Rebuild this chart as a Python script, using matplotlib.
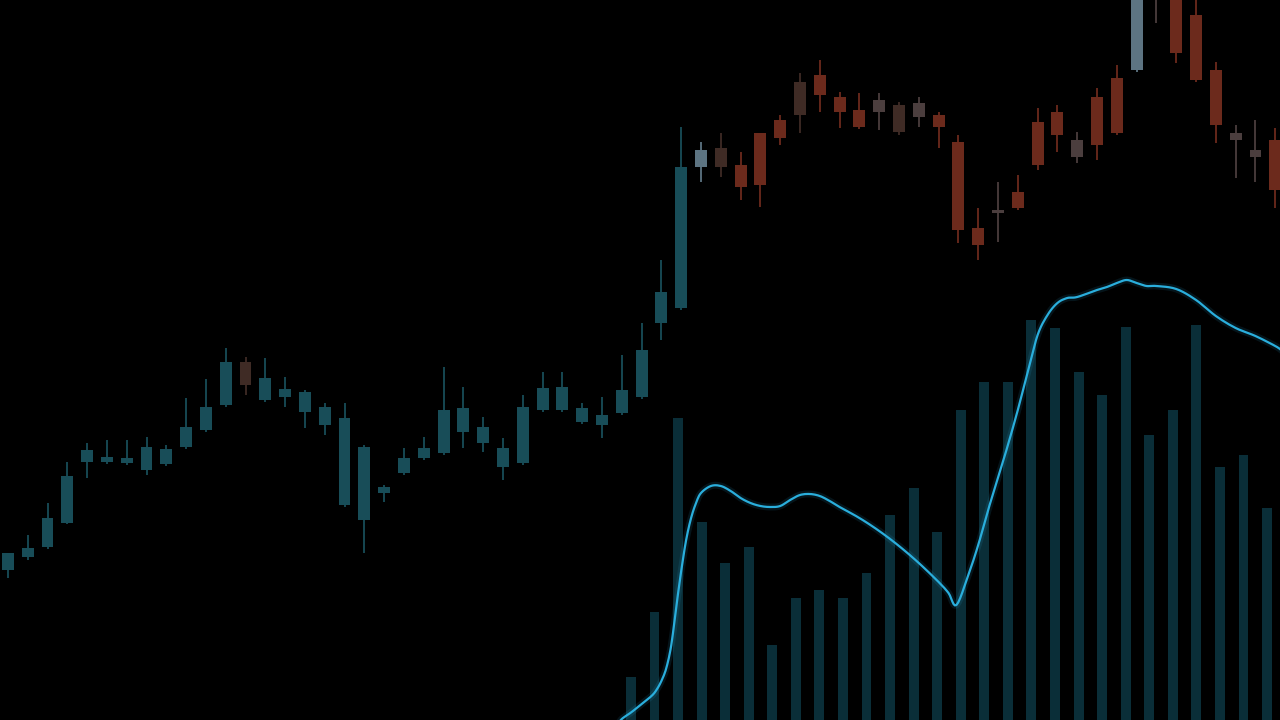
import matplotlib
matplotlib.use("Agg")
import matplotlib.pyplot as plt
import numpy as np

# candle series: one entry per session
opens = [15.0, 16.3, 17.3, 19.7, 25.8, 25.8, 25.7, 25.0, 25.6, 27.3,
         29.0, 31.5, 35.8, 32.0, 32.3, 30.8, 29.5, 21.5, 20.0, 22.7,
         24.7, 26.2, 26.7, 28.8, 27.7, 25.3, 25.7, 31.0, 31.0, 29.8,
         29.5, 30.7, 32.3, 39.7, 41.2, 55.3, 57.2, 55.5, 58.7, 60.0,
         63.8, 64.5, 62.3, 61.0, 62.0, 61.5, 61.7, 60.5, 57.8, 49.2,
         51.0, 52.8, 59.8, 60.8, 58.0, 62.3, 64.2, 65.0, 72.0, 73.0,
         70.5, 65.0, 58.7, 57.0, 58.0]
closes = [16.7, 17.2, 20.2, 24.4, 27.0, 26.3, 26.2, 27.3, 27.1, 29.3,
          31.3, 35.8, 33.5, 34.2, 33.1, 32.8, 31.3, 30.2, 27.3, 23.3,
          26.2, 27.2, 31.0, 31.2, 29.3, 27.2, 31.3, 33.2, 33.3, 31.2,
          30.5, 33.0, 37.0, 42.8, 55.3, 57.0, 55.3, 53.3, 53.5, 58.2,
          60.5, 62.5, 60.8, 59.3, 60.8, 58.8, 60.3, 59.3, 49.0, 47.5,
          50.7, 51.2, 55.5, 58.5, 56.3, 57.5, 58.7, 73.5, 73.0, 66.7,
          64.0, 59.5, 58.0, 56.3, 53.0]
highs = [16.7, 18.5, 21.7, 25.8, 27.7, 28.0, 28.0, 28.3, 27.5, 32.2,
         34.1, 37.2, 36.3, 36.2, 34.3, 33.0, 31.7, 31.7, 27.5, 23.5,
         27.2, 28.3, 35.3, 33.3, 30.3, 28.2, 32.5, 34.8, 34.8, 31.7,
         32.3, 36.5, 39.7, 46.0, 59.3, 57.8, 58.7, 56.8, 58.7, 60.5,
         64.7, 66.0, 62.8, 62.7, 62.7, 61.8, 62.3, 60.8, 58.5, 51.2,
         53.8, 54.5, 61.2, 61.5, 58.8, 63.2, 65.5, 74.0, 73.5, 73.5,
         72.0, 65.8, 59.5, 60.0, 59.2]
lows = [14.2, 16.0, 17.1, 19.6, 24.2, 25.6, 25.5, 24.5, 25.4, 27.1,
        28.8, 31.3, 32.5, 31.8, 31.3, 29.2, 28.5, 21.3, 16.7, 21.8,
        24.5, 26.0, 26.5, 27.2, 26.8, 24.0, 25.5, 30.8, 30.8, 29.6,
        28.2, 30.5, 32.1, 38.0, 41.0, 53.8, 54.3, 52.0, 51.3, 57.5,
        58.7, 60.8, 59.2, 59.1, 59.0, 58.5, 59.3, 57.2, 47.7, 46.0,
        47.8, 51.0, 55.0, 56.8, 55.7, 56.0, 58.5, 64.8, 69.7, 65.7,
        63.8, 57.7, 54.2, 53.8, 51.2]
# t teal, r red, g grey, b blue-grey, d dark brown
tones = list("t" * 12 + "d" + "t" * 22 + "bdrrrdrrrgdgrrrgrrrgrrbgrrrggr")

# indicator columns along the lower half
volumes = [4.3, 10.8, 30.2, 19.8, 15.7, 17.3, 7.5, 12.2, 13.0, 12.2,
           14.7, 20.5, 23.2, 18.8, 31.0, 33.8, 33.8, 40.0, 39.2, 34.8,
           32.5, 39.3, 28.5, 31.0, 39.5, 25.3, 26.5, 21.2]

# smoothed signal line, sampled on the candle time axis
line_t = [30.8, 31.0, 31.5, 32.0, 32.5, 32.75, 33.0, 33.25, 33.5, 33.75,
          34.0, 34.25, 34.5, 34.75, 35.0, 35.5, 36.0, 36.5, 37.0, 37.5,
          38.0, 38.5, 39.0, 39.5, 40.0, 40.5, 41.0, 41.5, 42.0, 43.0,
          44.0, 45.0, 46.0, 47.0, 47.5, 47.9, 48.5, 49.0, 49.5, 50.0,
          50.5, 51.0, 51.5, 52.0, 52.5, 53.0, 53.5, 54.0, 55.0, 55.5,
          56.0, 56.5, 57.0, 57.5, 58.0, 59.0, 60.0, 61.0, 62.0, 63.0,
          64.0, 64.3]
line_v = [-0.5, 0.1, 0.8, 1.6, 2.4, 3.0, 3.9, 5.2, 7.5, 11.3,
          14.9, 18.0, 20.2, 21.7, 22.7, 23.4, 23.4, 22.9, 22.2, 21.7,
          21.4, 21.3, 21.4, 22.0, 22.5, 22.6, 22.4, 21.9, 21.3, 20.2,
          18.9, 17.4, 15.7, 13.8, 12.7, 11.5, 14.5, 17.5, 21.0, 24.2,
          27.5, 31.0, 34.8, 38.5, 40.5, 41.7, 42.2, 42.3, 43.0, 43.3,
          43.7, 44.0, 43.7, 43.4, 43.4, 43.1, 42.0, 40.4, 39.2, 38.4,
          37.4, 37.0]

tone_colors = {
    't': '#184d58',
    'r': '#6c2a1c',
    'g': '#4b3e3e',
    'b': '#5d7482',
    'd': '#3f2b25',
}


def smooth_path(xs, ys, steps=6):
    # catmull-rom pass so the drawn curve has no visible corners
    xs = np.asarray(xs, float)
    ys = np.asarray(ys, float)
    px = np.concatenate([[xs[0]], xs, [xs[-1]]])
    py = np.concatenate([[ys[0]], ys, [ys[-1]]])
    out_x, out_y = [], []
    for k in range(1, len(px) - 2):
        t = np.linspace(0, 1, steps, endpoint=False)
        for arr, out in ((px, out_x), (py, out_y)):
            p0, p1, p2, p3 = arr[k - 1], arr[k], arr[k + 1], arr[k + 2]
            out.extend(0.5 * (2 * p1 + (-p0 + p2) * t
                              + (2 * p0 - 5 * p1 + 4 * p2 - p3) * t ** 2
                              + (-p0 + 3 * p1 - 3 * p2 + p3) * t ** 3))
    out_x.append(xs[-1])
    out_y.append(ys[-1])
    return out_x, out_y


fig = plt.figure(figsize=(12.8, 7.2), dpi=100, facecolor='black')

# volume overlay has its own spacing, so it gets its own axes
ax_vol = fig.add_axes([0, 0, 1, 1])
ax_vol.set_facecolor('black')
ax_vol.bar(np.arange(len(volumes)), volumes, width=0.42, bottom=0,
           color='#0a2e38', zorder=1)
ax_vol.set_xlim(-26.78, 27.55)
ax_vol.set_ylim(0, 72)
ax_vol.axis('off')

ax = fig.add_axes([0, 0, 1, 1])
ax.patch.set_alpha(0)
idx = np.arange(len(opens))
for i in idx:
    c = tone_colors[tones[i]]
    lo_b = min(opens[i], closes[i])
    hi_b = max(opens[i], closes[i])
    ax.vlines(i, lows[i], highs[i], color=c, linewidth=1.3, zorder=2)
    ax.bar(i, hi_b - lo_b, bottom=lo_b, width=0.6, color=c, zorder=3)

sx, sy = smooth_path(line_t, line_v)
ax.plot(sx, sy, color='#2aa9d8', linewidth=5, alpha=0.12,
        solid_joinstyle='round', zorder=4)
ax.plot(sx, sy, color='#2aaedc', linewidth=1.6,
        solid_joinstyle='round', solid_capstyle='round', zorder=5)

ax.set_xlim(-0.40, 64.24)
ax.set_ylim(0, 72)
ax.axis('off')

plt.savefig('out.png', dpi=100, facecolor='black')
